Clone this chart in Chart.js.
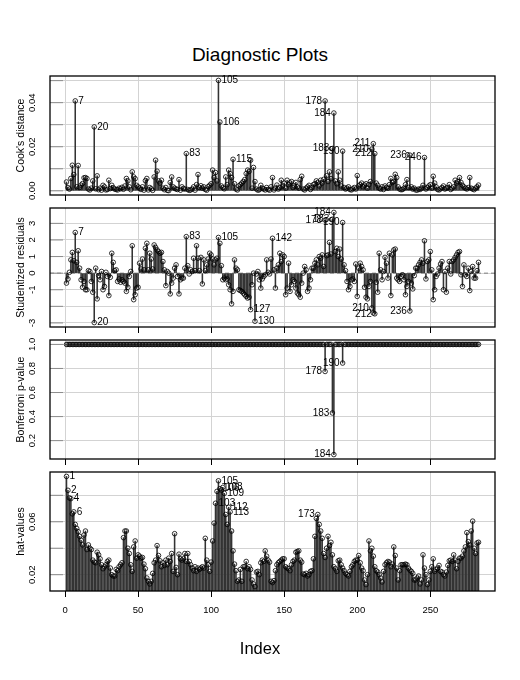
<!DOCTYPE html>
<html>
<head>
<meta charset="utf-8">
<title>Diagnostic Plots</title>
<script src="https://cdn.jsdelivr.net/npm/chart.js@4.4.1/dist/chart.umd.min.js"></script>
<style>
  body { margin: 0; background: #fff; font-family: "Liberation Sans", Arial, sans-serif; }
  #page { position: relative; width: 520px; height: 680px; overflow: hidden; }
  #page canvas { position: absolute; left: 0; }
  #title { position: absolute; left: 0; top: 44.5px; width: 520px; text-align: center; font-size: 19px; line-height: 19px; color: #000; }
  #xlab { position: absolute; left: 0; top: 640px; width: 520px; text-align: center; font-size: 16.5px; line-height: 16.5px; color: #000; }
</style>
</head>
<body>
<div id="page">
  <div id="title">Diagnostic Plots</div>
  <canvas id="cook" width="520" height="133" style="top:70px"></canvas>
  <canvas id="stud" width="520" height="133" style="top:202px"></canvas>
  <canvas id="bonf" width="520" height="133" style="top:334px"></canvas>
  <canvas id="hat" width="520" height="155" style="top:466px"></canvas>
  <div id="xlab">Index</div>
</div>
<script>
(function () {
  "use strict";

  // observation index 1..283
  const idx = Array.from({ length: 283 }, (_, k) => k + 1);
  const xTicks = [0, 50, 100, 150, 200, 250];

  const cooksD = [
    0.0040, 0.0015, 0.0008, 0.0056, 0.0116, 0.0074, 0.0408, 0.0018, 0.0115, 0.0015,
    0.0026, 0.0033, 0.0059, 0.0060, 0.0056, 0.0008, 0.0004, 0.0012, 0.0045, 0.0290,
    0.0009, 0.0068, 0.0005, 0.0012, 0.0003, 0.0025, 0.0018, 0.0004, 0.0006, 0.0048,
    0.0010, 0.0025, 0.0014, 0.0008, 0.0006, 0.0004, 0.0012, 0.0009, 0.0016, 0.0007,
    0.0022, 0.0056, 0.0045, 0.0018, 0.0005, 0.0086, 0.0063, 0.0055, 0.0025, 0.0018,
    0.0012, 0.0006, 0.0018, 0.0003, 0.0046, 0.0056, 0.0004, 0.0015, 0.0009, 0.0002,
    0.0063, 0.0139, 0.0089, 0.0045, 0.0035, 0.0048, 0.0012, 0.0005, 0.0015, 0.0002,
    0.0001, 0.0038, 0.0063, 0.0018, 0.0012, 0.0008, 0.0006, 0.0051, 0.0003, 0.0018,
    0.0010, 0.0008, 0.0169, 0.0006, 0.0002, 0.0004, 0.0008, 0.0018, 0.0003, 0.0028,
    0.0074, 0.0015, 0.0023, 0.0012, 0.0018, 0.0006, 0.0003, 0.0019, 0.0025, 0.0032,
    0.0094, 0.0060, 0.0083, 0.0045, 0.0501, 0.0312, 0.0022, 0.0015, 0.0009, 0.0063,
    0.0028, 0.0094, 0.0078, 0.0060, 0.0143, 0.0032, 0.0008, 0.0004, 0.0022, 0.0028,
    0.0035, 0.0042, 0.0051, 0.0078, 0.0094, 0.0088, 0.0139, 0.0012, 0.0106, 0.0042,
    0.0008, 0.0003, 0.0005, 0.0025, 0.0012, 0.0008, 0.0004, 0.0015, 0.0006, 0.0003,
    0.0018, 0.0060, 0.0004, 0.0012, 0.0026, 0.0008, 0.0015, 0.0048, 0.0022, 0.0035,
    0.0012, 0.0048, 0.0028, 0.0036, 0.0042, 0.0015, 0.0022, 0.0038, 0.0018, 0.0012,
    0.0051, 0.0066, 0.0008, 0.0004, 0.0012, 0.0018, 0.0025, 0.0006, 0.0015, 0.0028,
    0.0032, 0.0045, 0.0038, 0.0022, 0.0048, 0.0035, 0.0052, 0.0408, 0.0068, 0.0042,
    0.0086, 0.0055, 0.0192, 0.0353, 0.0045, 0.0032, 0.0086, 0.0048, 0.0022, 0.0180,
    0.0015, 0.0008, 0.0012, 0.0018, 0.0006, 0.0004, 0.0009, 0.0015, 0.0008, 0.0069,
    0.0022, 0.0028, 0.0035, 0.0018, 0.0026, 0.0032, 0.0012, 0.0028, 0.0042, 0.0189,
    0.0214, 0.0169, 0.0035, 0.0025, 0.0012, 0.0008, 0.0018, 0.0006, 0.0022, 0.0015,
    0.0012, 0.0028, 0.0056, 0.0038, 0.0042, 0.0075, 0.0060, 0.0018, 0.0008, 0.0005,
    0.0006, 0.0012, 0.0028, 0.0051, 0.0015, 0.0162, 0.0018, 0.0008, 0.0012, 0.0004,
    0.0003, 0.0008, 0.0006, 0.0012, 0.0025, 0.0151, 0.0008, 0.0015, 0.0022, 0.0028,
    0.0012, 0.0066, 0.0035, 0.0018, 0.0006, 0.0004, 0.0009, 0.0015, 0.0022, 0.0008,
    0.0012, 0.0015, 0.0028, 0.0006, 0.0012, 0.0018, 0.0048, 0.0035, 0.0042, 0.0060,
    0.0038, 0.0025, 0.0018, 0.0012, 0.0008, 0.0015, 0.0060, 0.0012, 0.0008, 0.0005,
    0.0012, 0.0018, 0.0026
  ];

  const rstudent = [
    -0.60, -0.35, 0.05, 0.80, 1.25, 0.75, 2.45, 0.65, 1.35, 0.30,
    -0.40, -0.85, -0.50, -1.00, -1.00, 0.15, 0.10, -0.50, -1.15, -2.98,
    0.30, -1.55, -0.15, -0.40, 0.10, -1.00, -0.80, 0.05, -0.20, -1.35,
    -0.25, 1.20, 0.65, 0.15, 0.20, -0.50, -0.35, -0.55, -0.40, -0.50,
    -0.60, -1.10, -0.85, -0.20, 0.10, 1.65, -1.60, -1.30, -0.90, -0.85,
    0.60, 0.25, 0.85, 0.20, 1.50, 1.80, 0.20, 1.20, 0.85, 0.25,
    1.70, 1.55, 1.40, 1.30, 1.20, 1.25, 0.70, 0.20, -0.75, 0.10,
    0.00, -1.25, -0.60, -0.30, 0.30, 0.50, -0.20, -1.25, -0.40, -0.30,
    -0.30, 0.30, 2.20, 0.45, -0.05, 0.20, 0.10, 0.90, 0.15, 1.65,
    0.90, 0.15, 0.95, -0.65, 0.80, 0.15, 0.50, 0.85, 1.20, 1.10,
    0.85, 0.50, 0.80, 0.90, 2.15, 1.80, 0.45, -0.40, -0.30, -0.40,
    -0.35, -0.70, -1.00, -1.85, -1.10, 0.80, 0.30, 0.20, -1.00, -1.05,
    -1.10, -1.20, -1.30, -1.40, -1.50, -1.45, -2.20, -0.70, 0.00, -2.90,
    -0.05, 0.10, -0.40, -0.90, -0.35, -0.20, -0.10, 0.80, 0.05, -0.05,
    0.85, 2.10, 0.20, -0.90, 0.30, 0.50, 1.20, 0.70, 1.10, 1.00,
    -1.30, -0.90, 0.60, -1.10, -0.70, -0.40, -0.50, -0.90, -1.20, -1.30,
    -1.45, -0.60, 0.00, 0.40, 0.20, -1.10, -0.90, -0.40, 0.30, 0.30,
    0.60, 0.80, 0.50, 1.00, 0.90, 1.10, 0.40, 3.20, 1.05, 1.10,
    1.85, 1.15, 3.25, 3.66, 1.30, 1.50, 1.00, 1.45, 0.85, 3.05,
    0.50, 0.15, -0.50, -1.00, -0.80, -0.40, -0.35, -0.50, 0.55, -1.40,
    0.30, 0.60, 0.40, 0.20, -0.85, -1.45, -1.55, -0.80, -0.50, -2.10,
    -2.40, -2.45, -0.55, -1.15, 1.20, 0.20, -0.40, 0.10, 0.95, 0.60,
    -0.30, 1.20, -1.35, 1.10, 1.40, 1.45, -0.30, -0.40, -0.50, -0.20,
    -0.10, -0.40, -1.30, -0.80, -0.50, -2.28, -0.60, -0.95, -0.15, 0.30,
    0.30, 0.50, 0.65, 0.80, 0.60, 1.95, -0.35, 0.70, 0.80, 1.30,
    0.20, -1.60, -1.00, -0.20, -0.05, 0.30, 0.55, 0.70, -1.00, 0.10,
    -1.15, 0.30, 0.70, -0.05, 0.70, 0.80, 0.95, 1.10, 1.25, 1.30,
    -0.10, -0.80, 0.50, -0.10, -0.20, 0.30, -1.05, 0.10, 0.40, -0.30,
    -0.30, 0.15, 0.65
  ];

  // Bonferroni p-values (capped at 1), rows of 10
  const bonfP = [
    1, 1, 1, 1, 1, 1, 1, 1, 1, 1,   1, 1, 1, 1, 1, 1, 1, 1, 1, 1,
    1, 1, 1, 1, 1, 1, 1, 1, 1, 1,   1, 1, 1, 1, 1, 1, 1, 1, 1, 1,
    1, 1, 1, 1, 1, 1, 1, 1, 1, 1,   1, 1, 1, 1, 1, 1, 1, 1, 1, 1,
    1, 1, 1, 1, 1, 1, 1, 1, 1, 1,   1, 1, 1, 1, 1, 1, 1, 1, 1, 1,
    1, 1, 1, 1, 1, 1, 1, 1, 1, 1,   1, 1, 1, 1, 1, 1, 1, 1, 1, 1,
    1, 1, 1, 1, 1, 1, 1, 1, 1, 1,   1, 1, 1, 1, 1, 1, 1, 1, 1, 1,
    1, 1, 1, 1, 1, 1, 1, 1, 1, 1,   1, 1, 1, 1, 1, 1, 1, 1, 1, 1,
    1, 1, 1, 1, 1, 1, 1, 1, 1, 1,   1, 1, 1, 1, 1, 1, 1, 1, 1, 1,
    1, 1, 1, 1, 1, 1, 1, 1, 1, 1,
    1, 1, 1, 1, 1, 1, 1, 0.775, 1, 1,
    1, 1, 0.43, 0.084, 1, 1, 1, 1, 1, 0.845,
    1, 1, 1, 1, 1, 1, 1, 1, 1, 1,   1, 1, 1, 1, 1, 1, 1, 1, 1, 1,
    1, 1, 1, 1, 1, 1, 1, 1, 1, 1,   1, 1, 1, 1, 1, 1, 1, 1, 1, 1,
    1, 1, 1, 1, 1, 1, 1, 1, 1, 1,   1, 1, 1, 1, 1, 1, 1, 1, 1, 1,
    1, 1, 1, 1, 1, 1, 1, 1, 1, 1,   1, 1, 1, 1, 1, 1, 1, 1, 1, 1,
    1, 1, 1, 1, 1, 1, 1, 1, 1, 1,
    1, 1, 1
  ];

  const hatValues = [
    0.0943, 0.0838, 0.0780, 0.0775, 0.0660, 0.0675, 0.0580, 0.0550, 0.0525, 0.0490,
    0.0460, 0.0425, 0.0500, 0.0530, 0.0390, 0.0425, 0.0400, 0.0390, 0.0310, 0.0295,
    0.0290, 0.0370, 0.0350, 0.0320, 0.0275, 0.0245, 0.0260, 0.0275, 0.0300, 0.0310,
    0.0250, 0.0200, 0.0190, 0.0190, 0.0240, 0.0230, 0.0260, 0.0275, 0.0290, 0.0480,
    0.0530, 0.0530, 0.0400, 0.0360, 0.0275, 0.0225, 0.0410, 0.0455, 0.0325, 0.0350,
    0.0340, 0.0325, 0.0330, 0.0280, 0.0245, 0.0175, 0.0150, 0.0130, 0.0150, 0.0210,
    0.0290, 0.0310, 0.0420, 0.0345, 0.0305, 0.0260, 0.0290, 0.0270, 0.0310, 0.0275,
    0.0325, 0.0300, 0.0360, 0.0225, 0.0510, 0.0255, 0.0200, 0.0355, 0.0320, 0.0310,
    0.0320, 0.0360, 0.0300, 0.0360, 0.0300, 0.0275, 0.0250, 0.0230, 0.0260, 0.0225,
    0.0250, 0.0240, 0.0250, 0.0260, 0.0250, 0.0475, 0.0310, 0.0275, 0.0225, 0.0295,
    0.0455, 0.0590, 0.0740, 0.0830, 0.0910, 0.0850, 0.0840, 0.0860, 0.0815, 0.0655,
    0.0580, 0.0710, 0.0675, 0.0530, 0.0380, 0.0280, 0.0230, 0.0150, 0.0160, 0.0240,
    0.0150, 0.0260, 0.0260, 0.0300, 0.0245, 0.0260, 0.0240, 0.0160, 0.0130, 0.0110,
    0.0220, 0.0225, 0.0200, 0.0290, 0.0310, 0.0300, 0.0380, 0.0340, 0.0310, 0.0295,
    0.0150, 0.0140, 0.0155, 0.0230, 0.0275, 0.0290, 0.0300, 0.0310, 0.0320, 0.0320,
    0.0260, 0.0250, 0.0245, 0.0230, 0.0275, 0.0300, 0.0310, 0.0370, 0.0375, 0.0380,
    0.0310, 0.0295, 0.0205, 0.0200, 0.0210, 0.0190, 0.0200, 0.0225, 0.0230, 0.0320,
    0.0490, 0.0625, 0.0655, 0.0580, 0.0530, 0.0475, 0.0360, 0.0330, 0.0400, 0.0490,
    0.0420, 0.0445, 0.0350, 0.0260, 0.0245, 0.0225, 0.0305, 0.0310, 0.0275, 0.0250,
    0.0230, 0.0210, 0.0200, 0.0190, 0.0225, 0.0260, 0.0275, 0.0300, 0.0310, 0.0310,
    0.0345, 0.0290, 0.0250, 0.0230, 0.0160, 0.0125, 0.0200, 0.0455, 0.0380, 0.0400,
    0.0340, 0.0260, 0.0230, 0.0220, 0.0200, 0.0175, 0.0145, 0.0225, 0.0275, 0.0290,
    0.0300, 0.0295, 0.0260, 0.0280, 0.0410, 0.0345, 0.0250, 0.0160, 0.0230, 0.0275,
    0.0275, 0.0275, 0.0280, 0.0275, 0.0250, 0.0235, 0.0225, 0.0210, 0.0160, 0.0160,
    0.0175, 0.0190, 0.0130, 0.0160, 0.0350, 0.0250, 0.0200, 0.0125, 0.0160, 0.0225,
    0.0260, 0.0320, 0.0225, 0.0240, 0.0250, 0.0270, 0.0225, 0.0220, 0.0200, 0.0190,
    0.0220, 0.0270, 0.0305, 0.0310, 0.0300, 0.0350, 0.0310, 0.0245, 0.0300, 0.0325,
    0.0325, 0.0340, 0.0380, 0.0410, 0.0518, 0.0450, 0.0425, 0.0530, 0.0605, 0.0400,
    0.0360, 0.0440, 0.0445
  ];

  // labelled observations: [index, side]
  const cookLabels = [[7, "r"], [20, "r"], [83, "r"], [105, "r"], [106, "r"], [115, "r"],
    [178, "l"], [184, "l"], [183, "l"], [190, "l"], [211, "l"], [210, "l"], [212, "l"], [236, "l"], [246, "l"]];
  const studLabels = [[7, "r"], [20, "r"], [83, "r"], [105, "r"], [127, "r"], [130, "r"], [142, "r"],
    [184, "l"], [183, "l"], [178, "l"], [190, "l"], [210, "l"], [212, "l"], [236, "l"]];
  const bonfLabels = [[178, "l"], [183, "l"], [184, "l"], [190, "l"]];
  const hatLabels = [[1, "r"], [2, "r"], [4, "r"], [6, "r"], [105, "r"], [106, "r"], [108, "r"],
    [109, "r"], [103, "r"], [112, "r"], [113, "r"], [173, "l"]];

  const FONT = '"Liberation Sans", Arial, sans-serif';
  Chart.defaults.font.family = FONT;

  // R-style range with 4% extension
  function extRange(vals) {
    const lo = Math.min(...vals), hi = Math.max(...vals), d = (hi - lo) * 0.04;
    return [lo - d, hi + d];
  }
  const xRange = extRange(idx);

  function framePlugin(cfg) {
    return {
      id: "frame",
      beforeDatasetsDraw(chart) {
        if (!cfg.zeroLine) return;
        const { ctx, chartArea: a, scales: { y } } = chart;
        const py = y.getPixelForValue(0);
        ctx.save();
        ctx.strokeStyle = "#808080";
        ctx.lineWidth = 1;
        ctx.setLineDash([4, 3]);
        ctx.beginPath();
        ctx.moveTo(a.left, py);
        ctx.lineTo(a.right, py);
        ctx.stroke();
        ctx.restore();
      },
      afterDatasetsDraw(chart) {
        const { ctx, scales: { x, y } } = chart;
        ctx.save();
        ctx.font = "10px " + FONT;
        ctx.fillStyle = "#000";
        ctx.textBaseline = "middle";
        cfg.labels.forEach(([i, side]) => {
          const px = x.getPixelForValue(i);
          const py = y.getPixelForValue(cfg.values[i - 1]);
          ctx.textAlign = side === "l" ? "right" : "left";
          ctx.fillText(String(i), px + (side === "l" ? -3 : 3), py);
        });
        ctx.restore();
      },
      afterDraw(chart) {
        const { ctx, chartArea: a, scales: { y } } = chart;
        ctx.save();
        // short inner tick segments
        ctx.strokeStyle = "#8c8c8c";
        ctx.lineWidth = 1;
        cfg.yTicks.forEach((v) => {
          const py = y.getPixelForValue(v);
          ctx.beginPath();
          ctx.moveTo(a.left, py);
          ctx.lineTo(a.left + 13, py);
          ctx.stroke();
        });
        // box
        ctx.strokeStyle = "#000";
        ctx.lineWidth = 1.3;
        ctx.strokeRect(a.left, a.top, a.right - a.left, a.bottom - a.top);
        // rotated y tick labels
        ctx.fillStyle = "#000";
        ctx.textAlign = "center";
        ctx.textBaseline = "middle";
        ctx.font = "9.5px " + FONT;
        cfg.yLabels.forEach(([v, txt]) => {
          ctx.save();
          ctx.translate(32.5, y.getPixelForValue(v));
          ctx.rotate(-Math.PI / 2);
          ctx.fillText(txt, 0, 0);
          ctx.restore();
        });
        // y title
        ctx.font = "10.5px " + FONT;
        ctx.translate(21, (a.top + a.bottom) / 2);
        ctx.rotate(-Math.PI / 2);
        ctx.fillText(cfg.title, 0, 0);
        ctx.restore();
      }
    };
  }

  function panel(id, cfg) {
    const yRange = extRange(cfg.values);
    const pts = cfg.values.map((v, k) => ({ x: idx[k], y: v }));
    const stems = cfg.values.map((v, k) => ({ x: idx[k], y: [cfg.base, v] }));
    return new Chart(document.getElementById(id), {
      type: "bar",
      data: {
        datasets: [
          {
            type: "scatter",
            data: pts,
            order: 0,
            pointRadius: 2.3,
            pointHoverRadius: 2.3,
            pointBorderWidth: 0.8,
            borderColor: "#000",
            backgroundColor: "rgba(0,0,0,0)"
          },
          {
            type: "bar",
            data: stems,
            order: 1,
            grouped: false,
            barThickness: 0.9,
            borderWidth: 0,
            backgroundColor: "#333"
          }
        ]
      },
      options: {
        responsive: false,
        animation: false,
        events: [],
        layout: { padding: { top: 6, right: 25, left: 0, bottom: 0 } },
        plugins: { legend: { display: false }, tooltip: { enabled: false } },
        scales: {
          x: {
            type: "linear",
            min: xRange[0],
            max: xRange[1],
            offset: false,
            afterBuildTicks: (s) => { s.ticks = xTicks.map((v) => ({ value: v })); },
            afterFit: (s) => { s.height = cfg.xAxisH; },
            grid: { color: "#d3d3d3", lineWidth: 1, offset: false, tickColor: "#000", tickLength: 6 },
            border: { display: false },
            ticks: {
              display: cfg.showX,
              color: "#000",
              font: { size: 9.5 },
              padding: 8,
              maxRotation: 0,
              autoSkip: false
            }
          },
          y: {
            type: "linear",
            min: yRange[0],
            max: yRange[1],
            afterBuildTicks: (s) => { s.ticks = cfg.yTicks.map((v) => ({ value: v })); },
            afterFit: (s) => { s.width = 50; },
            grid: { color: "#d3d3d3", lineWidth: 1, drawTicks: false },
            border: { display: false },
            ticks: { display: false }
          }
        }
      },
      plugins: [framePlugin(cfg)]
    });
  }

  panel("cook", {
    values: cooksD, base: 0, labels: cookLabels, title: "Cook's distance",
    yTicks: [0, 0.01, 0.02, 0.03, 0.04, 0.05],
    yLabels: [[0, "0.00"], [0.02, "0.02"], [0.04, "0.04"]],
    xAxisH: 8, showX: false
  });
  panel("stud", {
    values: rstudent, base: 0, labels: studLabels, title: "Studentized residuals",
    yTicks: [-3, -2, -1, 0, 1, 2, 3],
    yLabels: [[3, "3"], [2, "2"], [1, "1"], [0, "0"], [-1, "-1"], [-3, "-3"]],
    xAxisH: 8, showX: false, zeroLine: true
  });
  panel("bonf", {
    values: bonfP, base: 1, labels: bonfLabels, title: "Bonferroni p-value",
    yTicks: [0.2, 0.4, 0.6, 0.8, 1.0],
    yLabels: [[0.2, "0.2"], [0.4, "0.4"], [0.6, "0.6"], [0.8, "0.8"], [1.0, "1.0"]],
    xAxisH: 8, showX: false
  });
  panel("hat", {
    values: hatValues, base: 0, labels: hatLabels, title: "hat-values",
    yTicks: [0.02, 0.04, 0.06, 0.08],
    yLabels: [[0.02, "0.02"], [0.06, "0.06"]],
    xAxisH: 30, showX: true
  });
})();
</script>
</body>
</html>
